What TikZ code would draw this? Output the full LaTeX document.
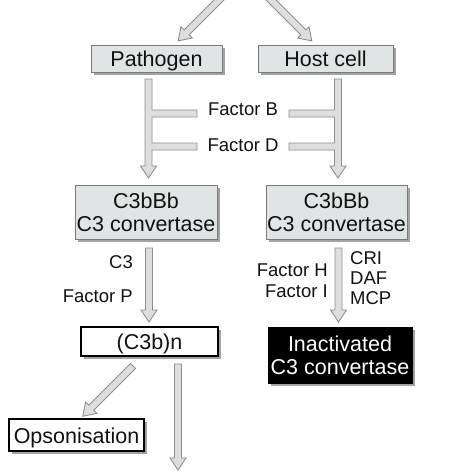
\documentclass[tikz,border=0pt]{standalone}
\usepackage{fontspec}
\setmainfont{Liberation Sans}
\usetikzlibrary{shadows}
\definecolor{boxfill}{HTML}{E1E4E4}
\definecolor{boxline}{HTML}{7A7A7A}
\definecolor{shadowc}{HTML}{A3A3A3}
\definecolor{arrfill}{HTML}{DDDFDF}
\definecolor{arrline}{HTML}{8E8E8E}
\definecolor{txt}{HTML}{111111}
\tikzset{
  arrowbody/.style={draw=arrline, fill=arrfill, line width=0.9pt, line join=miter},
  pics/fatarrow/.style={code={\draw[arrowbody] (-3.5,0) -- (-3.5,#1-12) -- (-8,#1-12) -- (0,#1) -- (8,#1-12) -- (3.5,#1-12) -- (3.5,0) -- cycle;}},
  graybox/.style={draw=boxline, fill=boxfill, line width=1pt, inner sep=0pt, align=center,
    text=txt, font=\fontsize{21.5}{23}\selectfont,
    drop shadow={shadow xshift=3pt, shadow yshift=-3pt, fill=shadowc, opacity=1}},
  oneline/.style={text height=16pt, text depth=0pt},
  whitebox/.style={graybox, draw=black, fill=white, line width=1.5pt},
  blackbox/.style={graybox, draw=black, fill=black, text=white},
  lbl/.style={inner sep=0pt, text=txt, font=\fontsize{18.5}{21}\selectfont},
}
\begin{document}
\begin{tikzpicture}[x=1pt, y=-1pt]
\useasboundingbox (0,0) rectangle (474,474);
\clip (0,0) rectangle (474,474);
\fill[white] (0,0) rectangle (474,474);

% boxes
\node[graybox, oneline, minimum width=131pt, minimum height=27pt] (path) at (156.5,58.5) {Pathogen};
\node[graybox, oneline, minimum width=135pt, minimum height=27pt] (host) at (325.5,58.5) {Host cell};
\node[graybox, minimum width=142pt, minimum height=54pt] (convL) at (146,212) {C3bBb\\C3 convertase};
\node[graybox, minimum width=141pt, minimum height=54pt] (convR) at (336.5,212) {C3bBb\\C3 convertase};
\node[whitebox, oneline, minimum width=137pt, minimum height=29pt] (c3bn) at (149.5,341.5) {(C3b)n};
\node[blackbox, minimum width=144pt, minimum height=56pt] (inact) at (340,355) {Inactivated\\C3 convertase};
\node[whitebox, oneline, minimum width=135pt, minimum height=32pt] (ops) at (76.5,435) {Opsonisation};

% top arrows
\coordinate (tl) at (222,-3);
\coordinate (tr) at (268,-3);
\pic[rotate=-45] at (tl) {fatarrow=62};
\pic[rotate=45] at (tr) {fatarrow=62};

% brackets with Factor B / Factor D
\draw[arrowbody] (145,79) -- (145,166) -- (140.5,166) -- (148.5,178) -- (156.5,166) -- (152,166)
  -- (152,150) -- (197,150) -- (197,143) -- (152,143) -- (152,117) -- (197,117) -- (197,110)
  -- (152,110) -- (152,79) -- cycle;
\draw[arrowbody] (341.5,79) -- (341.5,166) -- (346,166) -- (338,178) -- (330,166) -- (334.5,166)
  -- (334.5,150) -- (289,150) -- (289,143) -- (334.5,143) -- (334.5,117) -- (289,117) -- (289,110)
  -- (334.5,110) -- (334.5,79) -- cycle;
\node[lbl] (fb) at (243,109) {Factor B};
\node[lbl] (fd) at (243,145) {Factor D};

% arrows below convertases
\coordinate (al) at (149,248);
\coordinate (ar) at (338.5,248);
\pic at (al) {fatarrow=74};
\pic at (ar) {fatarrow=74};
\node[lbl, anchor=east] (c3) at (133,262) {C3};
\node[lbl, anchor=east] (fp) at (133,296) {Factor P};
\node[lbl, anchor=east, align=right] (fhi) at (328,280.5) {Factor H\\Factor I};
\node[lbl, anchor=west, align=left, font=\fontsize{18.5}{20}\selectfont] (cdm) at (350,278) {CRI\\DAF\\MCP};

% arrows from (C3b)n
\coordinate (dl) at (133,366);
\coordinate (vd) at (178,364);
\pic[rotate=-45] at (dl) {fatarrow=71};
\pic at (vd) {fatarrow=106};
\end{tikzpicture}
\end{document}
